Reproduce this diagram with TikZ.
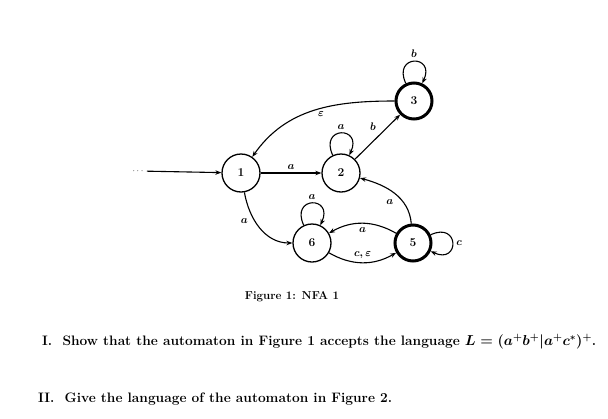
\documentclass[tikz,border=0pt]{standalone}
\usetikzlibrary{arrows.meta}
\begin{document}
\begin{tikzpicture}[x=1pt,y=-1pt,
 st/.style={circle,draw,line width=1.3pt,minimum size=38pt,inner sep=0pt,font=\bfseries\fontsize{12}{14}\selectfont},
 acc/.style={st,line width=3pt,minimum size=36pt},
 ed/.style={draw,line width=1.1pt,-{Stealth[length=6pt]}},
 lp/.style={ed,looseness=5},
 lb/.style={font=\boldmath\fontsize{11}{13}\selectfont},
 txt/.style={font=\bfseries\boldmath\fontsize{13.7}{16}\selectfont,anchor=west,inner sep=0pt}]
\useasboundingbox (0,0) rectangle (608,418);
\node[st] (n1) at (241,173) {1};
\node[st] (n2) at (341,173) {2};
\node[acc] (n3) at (414,101) {3};
\node[st] (n6) at (312,243) {6};
\node[acc] (n5) at (413,243) {5};
\node[font=\small] (in) at (138,171) {$\cdots$};
\draw[ed] (in) -- (n1);
\draw[ed] (n1) -- node[lb,above]{$a$} (n2);
\draw[ed] (n2) -- node[lb,above left,pos=0.55]{$b$} (n3);
\draw[ed] (n3) to[out=180,in=55] node[lb,pos=0.45,below,inner sep=3pt]{$\varepsilon$} (n1);
\draw[ed] (n1) to[out=-80,in=180] node[lb,pos=0.3,below left]{$a$} (n6);
\draw[ed] (n5) to[out=95,in=-15] node[lb,pos=0.45,below left]{$a$} (n2);
\draw[ed] (n5) to[out=150,in=30] node[lb,below]{$a$} (n6);
\draw[ed] (n6) to[out=-30,in=-150] node[lb,above]{$c,\varepsilon$} (n5);
\draw[lp] (n2.115) to[out=115,in=65] node[lb,above]{$a$} (n2.65);
\draw[lp] (n6.115) to[out=115,in=65] node[lb,above]{$a$} (n6.65);
\draw[lp] (n3.115) to[out=115,in=65] node[lb,above]{$b$} (n3.65);
\draw[lp] (n5.25) to[out=25,in=-25] node[lb,right]{$c$} (n5.-25);
\node[font=\bfseries\fontsize{11.5}{14}\selectfont] (cap) at (292,297) {Figure 1: NFA 1};
\node[txt] (t1) at (42,342) {I.\ \ Show that the automaton in Figure 1 accepts the language $L=(a^+b^+|a^+c^*)^+$.};
\node[txt] (t2) at (38,399) {II.\ \ Give the language of the automaton in Figure 2.};
\end{tikzpicture}
\end{document}
